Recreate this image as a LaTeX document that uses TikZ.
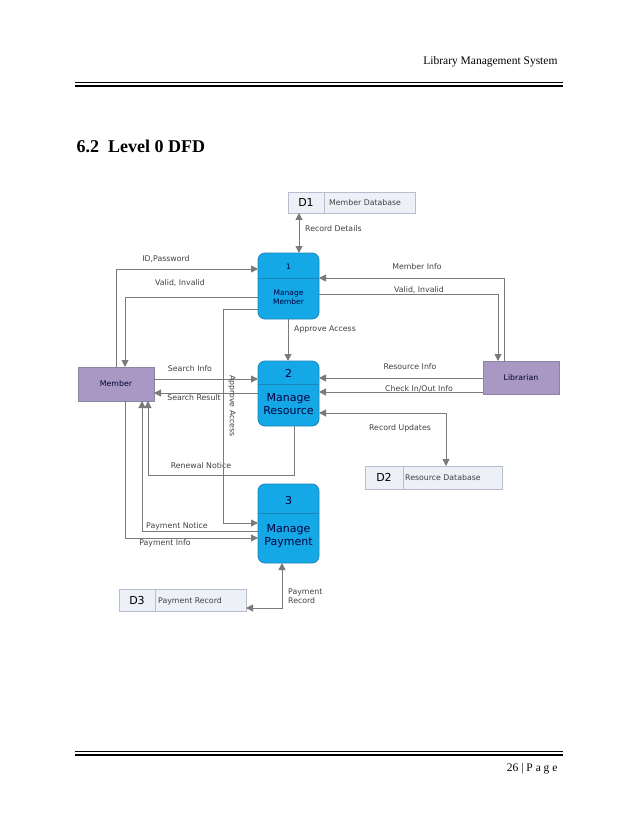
\documentclass[tikz,border=0pt]{standalone}
\usepackage{fontspec}
\setmainfont{Liberation Serif}
\newfontfamily\dfd{DejaVu Sans}
\usetikzlibrary{arrows.meta}
\definecolor{proc}{HTML}{14A8E6}
\definecolor{procb}{HTML}{1B86B8}
\definecolor{ent}{HTML}{A998C4}
\definecolor{entb}{HTML}{8A86A0}
\definecolor{store}{HTML}{EEF0F8}
\definecolor{storeb}{HTML}{B8BCCC}
\definecolor{flow}{HTML}{7A7A7A}
\tikzset{
 procbox/.style={draw=procb,fill=proc,rounded corners=7pt,line width=0.8pt},
 entbox/.style={draw=entb,fill=ent,line width=0.6pt},
 storebox/.style={draw=storeb,fill=store,line width=0.6pt},
 fl/.style={draw=flow,line width=1pt,-{Triangle[length=7pt,width=7pt]}},
 fl2/.style={draw=flow,line width=1pt,{Triangle[length=7pt,width=7pt]}-{Triangle[length=7pt,width=7pt]}},
 lb/.style={font=\dfd\fontsize{7.8}{9}\selectfont,text=black!75,inner sep=1pt},
 pt/.style={font=\dfd\fontsize{7.5}{9}\selectfont,text=blue!25!black,align=center},
 ptb/.style={font=\dfd\fontsize{11}{13}\selectfont,text=blue!25!black,align=center},
}
\begin{document}
\begin{tikzpicture}[x=1pt,y=-1pt]
\useasboundingbox (0,0) rectangle (638,826);
% header/footer
\node[anchor=east,font=\fontsize{11.5}{13}\selectfont] (hdr) at (561,62) {Library Management System};
\draw[line width=0.6pt] (75,82) -- (563,82);
\draw[line width=2.5pt] (75,86) -- (563,86);
\draw[line width=0.6pt] (75,751) -- (563,751);
\draw[line width=2.5pt] (75,755) -- (563,755);
\node[anchor=east,font=\fontsize{11.5}{13}\selectfont] (ftr) at (561,769) {26 | P a g e};
\node[anchor=west,font=\bfseries\fontsize{18}{21}\selectfont] (ttl) at (73,146) {6.2\enspace Level 0 DFD};
% stores
\draw[storebox] (288,192) rectangle (415,213); \draw[storeb] (324,192)--(324,213);
\node[font=\dfd\fontsize{11}{12}\selectfont] (d1n) at (306,202.5) {D1};
\node[lb,anchor=west] (d1t) at (328,202.5) {Member Database};
\coordinate (d1) at (299,213);
\draw[storebox] (365,466) rectangle (502,489); \draw[storeb] (403,466)--(403,489);
\node[font=\dfd\fontsize{11}{12}\selectfont] (d2n) at (384,477.5) {D2};
\node[lb,anchor=west] (d2t) at (404,478) {Resource Database};
\coordinate (d2) at (446,466);
\draw[storebox] (119,589) rectangle (246,611); \draw[storeb] (155,589)--(155,611);
\node[font=\dfd\fontsize{11}{12}\selectfont] (d3n) at (137,600) {D3};
\node[lb,anchor=west] (d3t) at (157,601) {Payment Record};
\coordinate (d3) at (246,608);
% processes
\draw[procbox] (258,253) rectangle (319,319); \draw[procb,line width=0.8pt] (258,278)--(319,278);
\node[pt] (p1n) at (288.5,267) {1};
\node[pt] (p1t) at (288.5,297) {Manage\\Member};
\draw[procbox] (258,361) rectangle (319,426); \draw[procb,line width=0.8pt] (258,384)--(319,384);
\node[ptb] (p2n) at (288.5,373) {2};
\node[ptb] (p2t) at (288.5,404) {Manage\\Resource};
\draw[procbox] (258,484) rectangle (319,563); \draw[procb,line width=0.8pt] (258,513)--(319,513);
\node[ptb] (p3n) at (288.5,500) {3};
\node[ptb] (p3t) at (288.5,536) {Manage\\Payment};
% entities
\draw[entbox] (78,367) rectangle (154,401);
\node[lb,text=blue!20!black] (mem) at (116,384) {Member};
\draw[entbox] (483,361) rectangle (559,394);
\node[lb,text=blue!20!black] (lib) at (521,378) {Librarian};
% flows
\draw[fl2] (d1) -- (299,253);
\node[lb,anchor=west] (l1) at (304,229) {Record Details};
\draw[fl] (116,367) |- (258,269);
\node[lb] (l2) at (166,259) {ID,Password};
\draw[fl] (258,297) -| (125,367);
\node[lb] (l3) at (180,283) {Valid, Invalid};
\draw[fl] (504,361) |- (319,278);
\node[lb] (l4) at (417,267) {Member Info};
\draw[fl] (319,294) -| (498,361);
\node[lb] (l5) at (419,290) {Valid, Invalid};
\draw[fl] (288,319) -- (288,361);
\node[lb,anchor=west] (l6) at (293,329) {Approve Access};
\draw[fl] (154,379) -- (258,379);
\node[lb] (l7) at (190,369) {Search Info};
\draw[fl] (258,393) -- (154,393);
\node[lb] (l8) at (194,398) {Search Result};
\draw[fl] (483,378) -- (319,378);
\node[lb] (l9) at (410,367) {Resource Info};
\draw[fl] (483,392) -- (319,392);
\node[lb] (l10) at (419,389) {Check In/Out Info};
\draw[fl2] (319,413) -| (d2);
\node[lb] (l11) at (400,428) {Record Updates};
\draw[fl] (294,426) |- (148,475) -- (148,401);
\node[lb] (l12) at (201,466) {Renewal Notice};
\draw[fl] (258,309) -| (223,523) -- (258,523);
\node[lb,rotate=-90] (l13) at (232,406) {Approve Access};
\draw[fl] (258,531) -| (142,401);
\node[lb] (l14) at (177,526) {Payment Notice};
\draw[fl] (125,401) |- (258,538);
\node[lb] (l15) at (165,543) {Payment Info};
\draw[fl2] (282,563) |- (d3);
\node[lb,anchor=west,align=left] (l16) at (287,596) {Payment\\Record};
\end{tikzpicture}
\end{document}
